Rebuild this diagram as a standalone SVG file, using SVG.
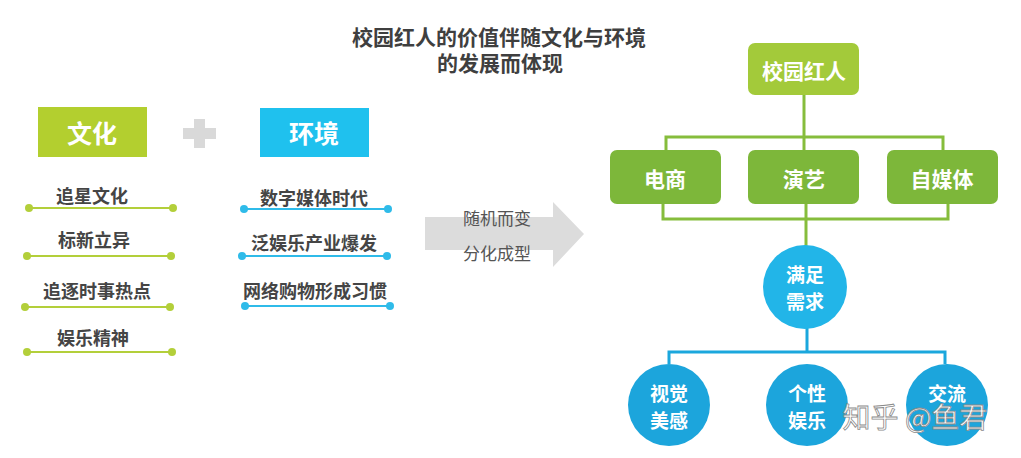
<svg xmlns="http://www.w3.org/2000/svg" width="1021" height="458" viewBox="0 0 1021 458">
<defs>
<style>
text{font-family:"Noto Sans CJK SC","Noto Sans",sans-serif;text-anchor:middle;dominant-baseline:central}
.title{font-size:21px;font-weight:bold;fill:#3f3f3f}
.item{font-size:18px;font-weight:bold;fill:#454545}
.hdr{font-size:25px;font-weight:bold;fill:#fff}
.wt{font-size:21px;font-weight:bold;fill:#fff}
.ct{font-size:19px;font-weight:bold;fill:#fff}
.arrowtxt{font-size:17px;fill:#555}
.gl{stroke:#b3cf3a;stroke-width:2}
.gd{fill:#b3cf3a}
.bl{stroke:#2fbbe9;stroke-width:2}
.bd{fill:#2fbbe9}
.gc{stroke:#86bd3c;stroke-width:3;fill:none}
.bc{stroke:#1ba7dd;stroke-width:3;fill:none}
.gbox{fill:#7db73a}
.bcir{fill:#1ca5dc}
</style>
</defs>
<rect width="1021" height="458" fill="#fff"/>
<g id="title">
<text class="title" x="499" y="36">校园红人的价值伴随文化与环境</text>
<text class="title" x="500" y="62">的发展而体现</text>
</g>
<g id="culture">
<rect x="38" y="107" width="109" height="50" fill="#b3cf2f"/>
<text class="hdr" x="92" y="132">文化</text>
</g>
<g id="plus">
<rect x="183" y="128" width="33" height="11" fill="#d9d9d9"/>
<rect x="194" y="119" width="11" height="29" fill="#d9d9d9"/>
</g>
<g id="environment">
<rect x="260" y="108" width="109" height="49" fill="#1fc1ee"/>
<text class="hdr" x="314" y="132">环境</text>
</g>
<g id="culture-items">
<text class="item" x="92" y="195">追星文化</text>
<line class="gl" x1="29" y1="208" x2="173" y2="208"/><circle class="gd" cx="29" cy="208" r="4"/><circle class="gd" cx="173" cy="208" r="4"/>
<text class="item" x="94" y="239">标新立异</text>
<line class="gl" x1="27" y1="256" x2="171" y2="256"/><circle class="gd" cx="27" cy="256" r="4"/><circle class="gd" cx="171" cy="256" r="4"/>
<text class="item" x="97" y="290">追逐时事热点</text>
<line class="gl" x1="25" y1="307" x2="170" y2="307"/><circle class="gd" cx="25" cy="307" r="4"/><circle class="gd" cx="170" cy="307" r="4"/>
<text class="item" x="93" y="337">娱乐精神</text>
<line class="gl" x1="27" y1="352" x2="172" y2="352"/><circle class="gd" cx="27" cy="352" r="4"/><circle class="gd" cx="172" cy="352" r="4"/>
</g>
<g id="env-items">
<text class="item" x="314" y="197">数字媒体时代</text>
<line class="bl" x1="244" y1="209" x2="388" y2="209"/><circle class="bd" cx="244" cy="209" r="4"/><circle class="bd" cx="388" cy="209" r="4"/>
<text class="item" x="314" y="242">泛娱乐产业爆发</text>
<line class="bl" x1="242" y1="256" x2="387" y2="256"/><circle class="bd" cx="242" cy="256" r="4"/><circle class="bd" cx="387" cy="256" r="4"/>
<text class="item" x="315" y="290">网络购物形成习惯</text>
<line class="bl" x1="245" y1="306" x2="390" y2="306"/><circle class="bd" cx="245" cy="306" r="4"/><circle class="bd" cx="390" cy="306" r="4"/>
</g>
<g id="big-arrow">
<polygon points="425,217 553,217 553,202 584,234 553,267 553,250 425,250" fill="#dcdcdc"/>
<text class="arrowtxt" x="497" y="217">随机而变</text>
<text class="arrowtxt" x="497" y="252">分化成型</text>
</g>
<g id="connectors">
<polyline class="gc" points="804,95 804,137"/>
<polyline class="gc" points="666,150 666,137 943,137 943,150"/>
<polyline class="gc" points="804,137 804,150"/>
<polyline class="gc" points="663,204 663,219 948,219 948,204"/>
<polyline class="gc" points="806,204 806,246"/>
<polyline class="bc" points="807,328 807,352"/>
<polyline class="bc" points="669,364 669,352 945,352 945,364"/>
</g>
<g id="node-xiaoyuan">
<rect x="748" y="43" width="111" height="52" rx="7" fill="#a3ca3a"/>
<text class="wt" x="804" y="70">校园红人</text>
</g>
<g id="node-dianshang">
<rect class="gbox" x="610" y="150" width="111" height="54" rx="7"/>
<text class="wt" x="665" y="178">电商</text>
</g>
<g id="node-yanyi">
<rect class="gbox" x="748" y="150" width="111" height="54" rx="7"/>
<text class="wt" x="804" y="178">演艺</text>
</g>
<g id="node-zimeiti">
<rect class="gbox" x="887" y="150" width="111" height="54" rx="7"/>
<text class="wt" x="942" y="178">自媒体</text>
</g>
<g id="node-manzu">
<circle cx="805" cy="287" r="42" fill="#22b5e8"/>
<text class="ct" x="805" y="273">满足</text>
<text class="ct" x="805" y="300">需求</text>
</g>
<g id="node-shijue">
<circle class="bcir" cx="669" cy="405" r="41"/>
<text class="ct" x="669" y="392">视觉</text>
<text class="ct" x="669" y="419">美感</text>
</g>
<g id="node-gexing">
<circle class="bcir" cx="807" cy="405" r="41"/>
<text class="ct" x="807" y="392">个性</text>
<text class="ct" x="807" y="419">娱乐</text>
</g>
<g id="node-jiaoliu">
<circle class="bcir" cx="947" cy="405" r="41"/>
<text class="ct" x="947" y="392">交流</text>
</g>
<g id="watermark">
<text x="915" y="416" font-size="28" fill="#fff" stroke="#8a8a8a" stroke-width="0.8">知乎 @鱼君</text>
</g>
</svg>
